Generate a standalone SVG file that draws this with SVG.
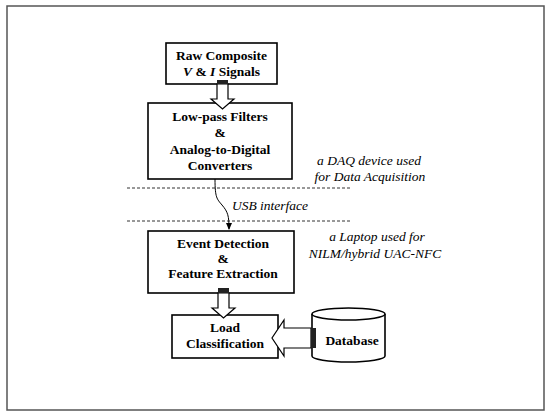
<svg xmlns="http://www.w3.org/2000/svg" width="550" height="417" viewBox="0 0 550 417">
<style>
.box{fill:#fff;stroke:#000;stroke-width:1.6}
.b{font-family:"Liberation Serif","Times New Roman",serif;font-weight:bold;font-size:13.5px;text-anchor:middle;fill:#000}
.i{font-family:"Liberation Serif","Times New Roman",serif;font-style:italic;font-size:13.5px;text-anchor:middle;fill:#000}
.dash{stroke:#333;stroke-width:1;stroke-dasharray:3,2;fill:none}
.ha{fill:#fff;stroke:#000;stroke-width:1.2}
.stub{fill:#222}
</style>
<defs>
<marker id="ah" markerWidth="8" markerHeight="8" refX="6" refY="4" orient="auto" markerUnits="userSpaceOnUse">
<path d="M0,1 L7,4 L0,7 Z" fill="#000"/>
</marker>
</defs>
<rect x="7" y="6" width="537" height="404" fill="#fff" stroke="#555" stroke-width="1.5"/>
<g id="connectors">
<line class="dash" x1="127" y1="188" x2="350" y2="188"/>
<line class="dash" x1="127" y1="221" x2="350" y2="221"/>
<path d="M215,179 C215,198 217,199 222,205 C228,212 229,216 229,229" fill="none" stroke="#000" stroke-width="1" marker-end="url(#ah)"/>
</g>
<g id="node-raw">
<rect class="box" x="166" y="43" width="111" height="41"/>
<text class="b" x="221.5" y="60">Raw Composite</text>
<text class="b" x="221.5" y="76"><tspan font-style="italic">V</tspan> &amp; <tspan font-style="italic">I</tspan> Signals</text>
</g>
<g id="node-filters">
<rect class="box" x="148" y="103" width="144" height="76"/>
<text class="b" x="220" y="121">Low-pass Filters</text>
<text class="b" x="220" y="137">&amp;</text>
<text class="b" x="220" y="154">Analog-to-Digital</text>
<text class="b" x="220" y="170">Converters</text>
</g>
<g id="arrow-1">
<path class="ha" d="M217,84 L228,84 L228,99 L234,99 L222.5,109 L211,99 L217,99 Z"/>
<rect class="stub" x="217" y="80" width="11" height="4"/>
</g>
<g id="node-event">
<rect class="box" x="148" y="231" width="146" height="62"/>
<text class="b" x="223" y="248">Event Detection</text>
<text class="b" x="223" y="263">&amp;</text>
<text class="b" x="223" y="278">Feature Extraction</text>
</g>
<g id="node-load">
<rect class="box" x="172" y="315" width="106" height="43"/>
<text class="b" x="225" y="332">Load</text>
<text class="b" x="225" y="348">Classification</text>
</g>
<g id="arrow-2">
<path class="ha" d="M218,293 L229,293 L229,308 L235,308 L223.5,318 L212,308 L218,308 Z"/>
<rect class="stub" x="218" y="288" width="11" height="5"/>
</g>
<g id="node-database">
<path d="M312,314 L312,356 A36.5,6 0 0 0 385,356 L385,314" fill="#fff" stroke="#000" stroke-width="1.6"/>
<ellipse cx="348.5" cy="314" rx="36.5" ry="6" fill="#fff" stroke="#000" stroke-width="1.6"/>
<text class="b" x="352" y="345">Database</text>
</g>
<g id="arrow-3">
<path class="ha" d="M311,328 L284,328 L284,320 L272,338 L284,356 L284,348 L311,348 Z"/>
<rect class="stub" x="311" y="328" width="5" height="20"/>
</g>
<g id="labels">
<text class="i" x="369" y="165">a DAQ device used</text>
<text class="i" x="370" y="181">for Data Acquisition</text>
<text class="i" x="270" y="210">USB interface</text>
<text class="i" x="377" y="241">a Laptop used for</text>
<text class="i" x="375" y="258">NILM/hybrid UAC-NFC</text>
</g>
</svg>
